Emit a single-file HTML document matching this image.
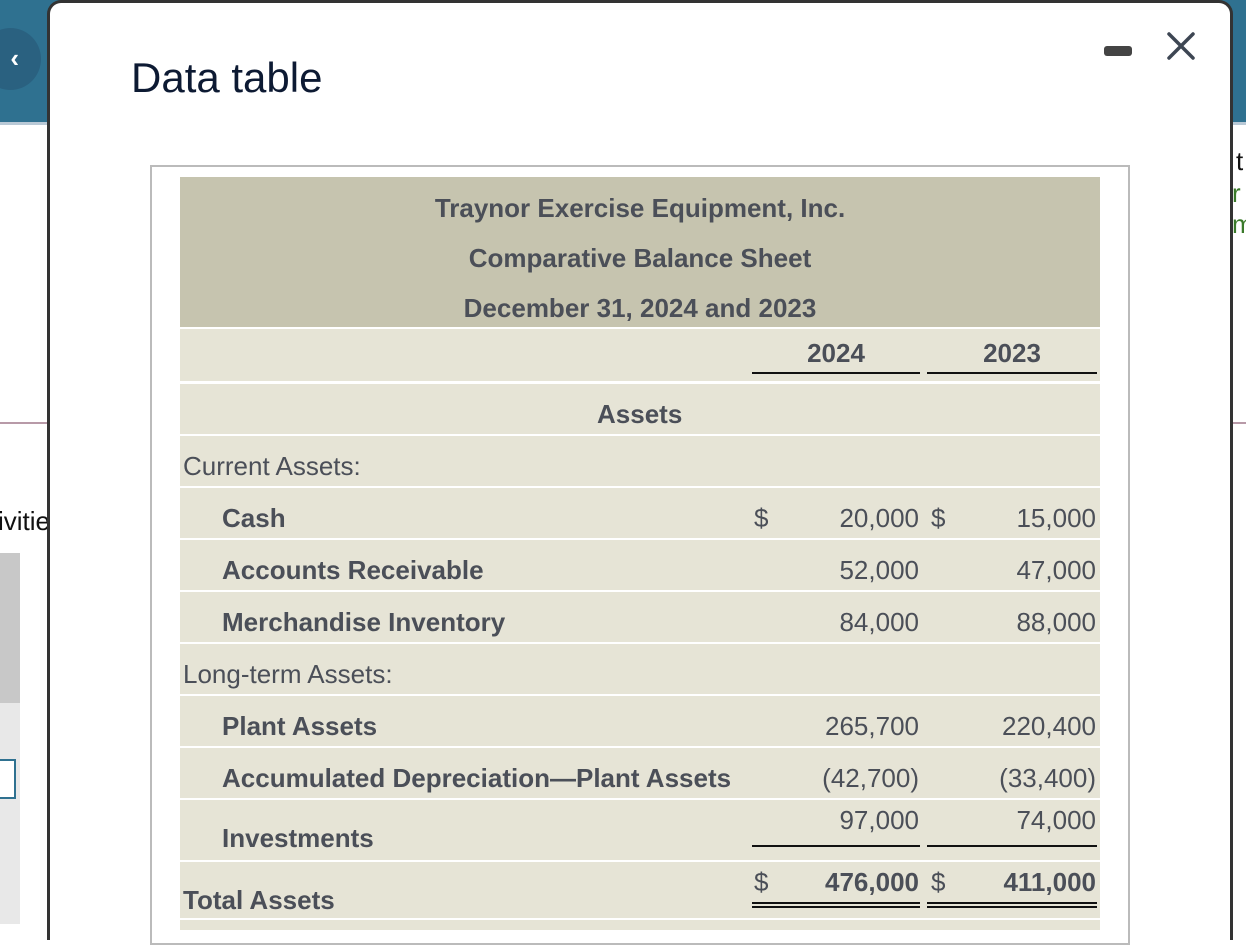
<!DOCTYPE html>
<html><head><meta charset="utf-8"><style>
*{margin:0;padding:0;box-sizing:border-box}
body{width:1246px;height:924px;overflow:hidden;background:#fff;position:relative;font-family:"Liberation Sans",Arial,sans-serif;color:#4b4f58}
.abs{position:absolute}
.row{position:absolute;left:180px;width:920px;background:#e6e4d6}
.t{position:absolute;font-size:26px;white-space:nowrap}
.b{font-weight:bold}
.r{text-align:right}
.ul{position:absolute;height:2px;background:#111}
</style></head><body>
<div class="abs" style="left:0;top:0;width:1246px;height:122px;background:#2f7190"></div>
<div class="abs" style="left:0;top:122px;width:1246px;height:3px;background:#b9c9d6"></div>
<div class="abs" style="left:-20px;top:28px;width:61px;height:62px;border-radius:50%;background:#2a6180;color:#fff;font-size:26px;font-weight:bold;line-height:60px;text-align:right;padding-right:22px">‹</div>
<div class="abs" style="left:0;top:422px;width:1246px;height:2px;background:#b89aa8"></div>
<div class="abs t" style="left:-2px;top:506px;color:#111">ivitie</div>
<div class="abs" style="left:0;top:553px;width:20px;height:150px;background:#c8c8c8"></div>
<div class="abs" style="left:0;top:703px;width:20px;height:221px;background:#e8e8e8"></div>
<div class="abs" style="left:-4px;top:759px;width:20px;height:40px;border:2px solid #2f7190;background:#fff"></div>
<div class="abs t" style="left:1236px;top:146px;color:#111">t</div>
<div class="abs t" style="left:1232px;top:178px;color:#3a7a2a">r<br>m</div>

<div class="abs" style="left:47px;top:0;width:1186px;height:940px;background:#fff;border:3px solid #333;border-bottom:none;border-radius:14px 14px 0 0"></div>
<div class="abs" style="left:131px;top:54px;font-size:42px;color:#0d1a33">Data table</div>
<div class="abs" style="left:1104px;top:46px;width:28px;height:10px;border-radius:3px;background:#444"></div>
<svg class="abs" style="left:1166px;top:31px" width="30" height="30"><path d="M3 3L27 27M27 3L3 27" stroke="#3d4653" stroke-width="3.5" stroke-linecap="round"/></svg>

<div class="abs" style="left:150px;top:165px;width:980px;height:780px;border:2px solid #bbb"></div>
<div class="abs" style="left:180px;top:177px;width:920px;height:150px;background:#c6c4af"></div>
<div class="t b" style="left:180px;width:920px;text-align:center;top:193px">Traynor Exercise Equipment, Inc.</div>
<div class="t b" style="left:180px;width:920px;text-align:center;top:243px">Comparative Balance Sheet</div>
<div class="t b" style="left:180px;width:920px;text-align:center;top:293px">December 31, 2024 and 2023</div>

<div class="row" style="top:329px;height:52px"></div>
<div class="t b" style="left:752px;width:168px;text-align:center;top:338px">2024</div>
<div class="t b" style="left:927px;width:170px;text-align:center;top:338px">2023</div>
<div class="ul" style="left:752px;top:372px;width:168px"></div>
<div class="ul" style="left:927px;top:372px;width:170px"></div>

<div class="row" style="top:384px;height:50px"></div>
<div class="t b" style="left:597px;top:399px">Assets</div>

<div id="rows"></div>
<div class="ul" style="left:752px;top:845px;width:168px"></div>
<div class="ul" style="left:927px;top:845px;width:170px"></div>
<div class="ul" style="left:752px;top:902px;width:168px;height:6px;background:none;border-top:2px solid #111;border-bottom:2px solid #111"></div>
<div class="ul" style="left:927px;top:902px;width:170px;height:6px;background:none;border-top:2px solid #111;border-bottom:2px solid #111"></div>
<div class="row" style="top:920px;height:10px"></div>

<script>
const labels=["Current Assets:","Cash","Accounts Receivable","Merchandise Inventory","Long-term Assets:","Plant Assets","Accumulated Depreciation\u2014Plant Assets","Investments","Total Assets"];
const v2024=["","20,000","52,000","84,000","","265,700","(42,700)","97,000","476,000"];
const v2023=["","15,000","47,000","88,000","","220,400","(33,400)","74,000","411,000"];
const tops=[436,488,540,592,644,696,748,800,862];
const heights=[50,50,50,50,50,50,50,60,56];
const host=document.getElementById('rows');
labels.forEach((lab,i)=>{
  const heading=(i===0||i===4), total=(i===8);
  const r=document.createElement('div');r.className='row';r.style.top=tops[i]+'px';r.style.height=heights[i]+'px';
  
  
  host.appendChild(r);
  const l=document.createElement('div');l.className='t'+(heading?'':' b');l.textContent=lab;
  l.style.left=(heading||total?183:222)+'px';
  const ly=(total||i===7)?tops[i]+23:tops[i]+15;
  l.style.top=ly+'px';
  
  
  host.appendChild(l);
  const vy=(i===7||total)?tops[i]+5:tops[i]+15;
  [[v2024[i],752,168],[v2023[i],927,170]].forEach(([v,x,w],k)=>{
    if(!v)return;
    const d=document.createElement('div');d.className='t r'+(total?' b':'');d.textContent=v;
    d.style.left=x+'px';d.style.width=(w-1)+'px';d.style.top=vy+'px';
    
    
    host.appendChild(d);
    if(i===1||total){
      const s=document.createElement('div');s.className='t';s.textContent='$';
      s.style.left=(k===0?754:931)+'px';s.style.top=vy+'px';
      
      
      host.appendChild(s);
    }
  });
});
</script>
</body></html>
